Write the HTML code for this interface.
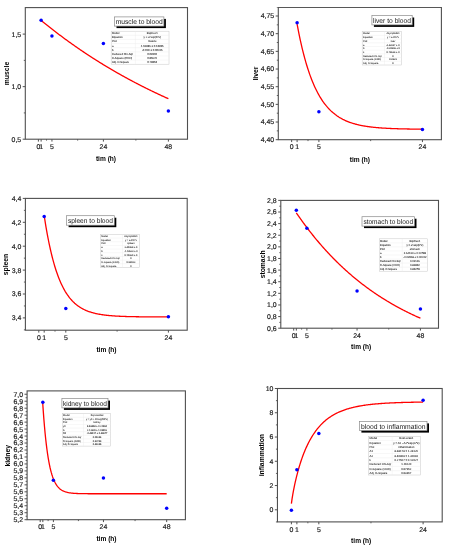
<!DOCTYPE html>
<html><head><meta charset="utf-8"><title>Figure</title>
<style>html,body{margin:0;padding:0;background:#fff;}svg{display:block;}text{font-family:"Liberation Sans", Arial, sans-serif;text-rendering:geometricPrecision;} .tl{stroke:#222;stroke-width:0.18px;} .ti{text-rendering:optimizeLegibility;}</style>
</head><body>
<svg width="453" height="550" viewBox="0 0 453 550">
<defs><filter id="soft" x="0" y="0" width="100%" height="100%"><feGaussianBlur stdDeviation="0.25"/></filter></defs>
<rect width="453" height="550" fill="#fff"/>
<g filter="url(#soft)">
<g><polyline points="41.11,20.37 41.74,20.89 42.38,21.41 43.02,21.93 43.65,22.45 44.29,22.97 44.93,23.48 45.56,23.99 46.2,24.51 46.84,25.02 47.47,25.52 48.11,26.03 48.74,26.54 49.38,27.04 50.02,27.54 50.65,28.04 51.29,28.54 51.93,29.04 52.56,29.54 53.2,30.03 53.84,30.53 54.47,31.02 55.11,31.51 55.74,32 56.38,32.48 57.02,32.97 57.65,33.45 58.29,33.94 58.93,34.42 59.56,34.9 60.2,35.38 60.84,35.85 61.47,36.33 62.11,36.8 62.74,37.28 63.38,37.75 64.02,38.22 64.65,38.68 65.29,39.15 65.93,39.62 66.56,40.08 67.2,40.54 67.84,41.01 68.47,41.46 69.11,41.92 69.75,42.38 70.38,42.84 71.02,43.29 71.65,43.74 72.29,44.19 72.93,44.64 73.56,45.09 74.2,45.54 74.84,45.99 75.47,46.43 76.11,46.87 76.75,47.32 77.38,47.76 78.02,48.2 78.65,48.63 79.29,49.07 79.93,49.51 80.56,49.94 81.2,50.37 81.84,50.8 82.47,51.23 83.11,51.66 83.75,52.09 84.38,52.52 85.02,52.94 85.65,53.36 86.29,53.79 86.93,54.21 87.56,54.63 88.2,55.04 88.84,55.46 89.47,55.88 90.11,56.29 90.75,56.7 91.38,57.12 92.02,57.53 92.65,57.94 93.29,58.35 93.93,58.75 94.56,59.16 95.2,59.56 95.84,59.97 96.47,60.37 97.11,60.77 97.75,61.17 98.38,61.57 99.02,61.96 99.65,62.36 100.29,62.75 100.93,63.15 101.56,63.54 102.2,63.93 102.84,64.32 103.47,64.71 104.11,65.1 104.75,65.48 105.38,65.87 106.02,66.25 106.66,66.63 107.29,67.02 107.93,67.4 108.56,67.78 109.2,68.15 109.84,68.53 110.47,68.91 111.11,69.28 111.75,69.66 112.38,70.03 113.02,70.4 113.66,70.77 114.29,71.14 114.93,71.51 115.56,71.87 116.2,72.24 116.84,72.6 117.47,72.97 118.11,73.33 118.75,73.69 119.38,74.05 120.02,74.41 120.66,74.77 121.29,75.12 121.93,75.48 122.56,75.83 123.2,76.19 123.84,76.54 124.47,76.89 125.11,77.24 125.75,77.59 126.38,77.94 127.02,78.29 127.66,78.63 128.29,78.98 128.93,79.32 129.56,79.67 130.2,80.01 130.84,80.35 131.47,80.69 132.11,81.03 132.75,81.36 133.38,81.7 134.02,82.04 134.66,82.37 135.29,82.71 135.93,83.04 136.56,83.37 137.2,83.7 137.84,84.03 138.47,84.36 139.11,84.69 139.75,85.01 140.38,85.34 141.02,85.66 141.66,85.99 142.29,86.31 142.93,86.63 143.57,86.95 144.2,87.27 144.84,87.59 145.47,87.91 146.11,88.22 146.75,88.54 147.38,88.85 148.02,89.17 148.66,89.48 149.29,89.79 149.93,90.1 150.57,90.41 151.2,90.72 151.84,91.03 152.47,91.34 153.11,91.65 153.75,91.95 154.38,92.25 155.02,92.56 155.66,92.86 156.29,93.16 156.93,93.46 157.57,93.76 158.2,94.06 158.84,94.36 159.47,94.66 160.11,94.95 160.75,95.25 161.38,95.54 162.02,95.84 162.66,96.13 163.29,96.42 163.93,96.71 164.57,97 165.2,97.29 165.84,97.58 166.47,97.87 167.11,98.15 167.75,98.44 168.38,98.72" fill="none" stroke="#ff0000" stroke-width="1.3" stroke-linejoin="round"/>
<circle cx="41.11" cy="20.23" r="1.75" fill="#0000ff"/>
<circle cx="51.94" cy="36.1" r="1.75" fill="#0000ff"/>
<circle cx="103.39" cy="43.45" r="1.75" fill="#0000ff"/>
<circle cx="168.38" cy="110.93" r="1.75" fill="#0000ff"/>
<rect x="25.3" y="7.6" width="162.2" height="131.6" fill="none" stroke="#505050" stroke-width="1.1"/>
<line x1="22.7" y1="139.2" x2="25.3" y2="139.2" stroke="#505050" stroke-width="1"/>
<text x="21.2" y="141.66" text-anchor="end" font-size="6.9" fill="#222" class="tl">0,5</text>
<line x1="22.7" y1="86.65" x2="25.3" y2="86.65" stroke="#505050" stroke-width="1"/>
<text x="21.2" y="89.11" text-anchor="end" font-size="6.9" fill="#222" class="tl">1,0</text>
<line x1="22.7" y1="34.1" x2="25.3" y2="34.1" stroke="#505050" stroke-width="1"/>
<text x="21.2" y="36.56" text-anchor="end" font-size="6.9" fill="#222" class="tl">1,5</text>
<line x1="23.8" y1="112.92" x2="25.3" y2="112.92" stroke="#505050" stroke-width="0.9"/>
<line x1="23.8" y1="60.38" x2="25.3" y2="60.38" stroke="#505050" stroke-width="0.9"/>
<line x1="38.4" y1="139.2" x2="38.4" y2="141.6" stroke="#505050" stroke-width="1"/>
<text x="38.4" y="148.9" text-anchor="middle" font-size="6.9" fill="#222" class="tl">0</text>
<line x1="41.11" y1="139.2" x2="41.11" y2="141.6" stroke="#505050" stroke-width="1"/>
<text x="41.11" y="148.9" text-anchor="middle" font-size="6.9" fill="#222" class="tl">1</text>
<line x1="51.94" y1="139.2" x2="51.94" y2="141.6" stroke="#505050" stroke-width="1"/>
<text x="51.94" y="148.9" text-anchor="middle" font-size="6.9" fill="#222" class="tl">5</text>
<line x1="103.39" y1="139.2" x2="103.39" y2="141.6" stroke="#505050" stroke-width="1"/>
<text x="103.39" y="148.9" text-anchor="middle" font-size="6.9" fill="#222" class="tl">24</text>
<line x1="168.38" y1="139.2" x2="168.38" y2="141.6" stroke="#505050" stroke-width="1"/>
<text x="168.38" y="148.9" text-anchor="middle" font-size="6.9" fill="#222" class="tl">48</text>
<line x1="46.52" y1="139.2" x2="46.52" y2="140.6" stroke="#505050" stroke-width="0.9"/>
<line x1="77.67" y1="139.2" x2="77.67" y2="140.6" stroke="#505050" stroke-width="0.9"/>
<line x1="135.89" y1="139.2" x2="135.89" y2="140.6" stroke="#505050" stroke-width="0.9"/>
<text transform="translate(8.7 73.5) rotate(-90)" text-anchor="middle" font-size="6.8" font-weight="bold" fill="#000" class="ti">muscle</text>
<text x="106" y="161" text-anchor="middle" font-size="6.6" font-weight="bold" fill="#000" class="ti">tim (h)</text>
<rect x="116.5" y="18.9" width="49.4" height="9.2" fill="#000"/>
<rect x="114.5" y="16.9" width="49.4" height="9.2" fill="#fff" stroke="#8a8a8a" stroke-width="0.7"/>
<text x="139.2" y="24.3" text-anchor="middle" font-size="7.0" fill="#1a1a1a" textLength="47.1" lengthAdjust="spacingAndGlyphs">muscle to blood</text>
<rect x="111.2" y="31.2" width="57.8" height="33" fill="#fff" stroke="#c8c8c8" stroke-width="0.5"/>
<line x1="111.2" y1="35.33" x2="169" y2="35.33" stroke="#ececec" stroke-width="0.4"/>
<line x1="111.2" y1="39.45" x2="169" y2="39.45" stroke="#ececec" stroke-width="0.4"/>
<line x1="111.2" y1="43.58" x2="169" y2="43.58" stroke="#ececec" stroke-width="0.4"/>
<line x1="111.2" y1="47.7" x2="169" y2="47.7" stroke="#ececec" stroke-width="0.4"/>
<line x1="111.2" y1="51.83" x2="169" y2="51.83" stroke="#ececec" stroke-width="0.4"/>
<line x1="111.2" y1="55.95" x2="169" y2="55.95" stroke="#ececec" stroke-width="0.4"/>
<line x1="111.2" y1="60.08" x2="169" y2="60.08" stroke="#ececec" stroke-width="0.4"/>
<line x1="135.4" y1="31.2" x2="135.4" y2="64.2" stroke="#ececec" stroke-width="0.4"/>
<text transform="translate(112 34.24) scale(0.2722)" class="tb" font-size="10" fill="#3a3a3a" stroke="#3a3a3a" stroke-width="0.3">Model</text>
<text transform="translate(152.2 34.24) scale(0.2722)" class="tb" font-size="10" fill="#3a3a3a" stroke="#3a3a3a" stroke-width="0.3" text-anchor="middle">ExpDec1</text>
<text transform="translate(112 38.37) scale(0.2722)" class="tb" font-size="10" fill="#3a3a3a" stroke="#3a3a3a" stroke-width="0.3">Equation</text>
<text transform="translate(152.2 38.37) scale(0.2722)" class="tb" font-size="10" fill="#3a3a3a" stroke="#3a3a3a" stroke-width="0.3" text-anchor="middle">y = a*exp(b*x)</text>
<text transform="translate(112 42.49) scale(0.2722)" class="tb" font-size="10" fill="#3a3a3a" stroke="#3a3a3a" stroke-width="0.3">Plot</text>
<text transform="translate(152.2 42.49) scale(0.2722)" class="tb" font-size="10" fill="#3a3a3a" stroke="#3a3a3a" stroke-width="0.3" text-anchor="middle">muscle</text>
<text transform="translate(112 46.62) scale(0.2722)" class="tb" font-size="10" fill="#3a3a3a" stroke="#3a3a3a" stroke-width="0.3">a</text>
<text transform="translate(152.2 46.62) scale(0.2722)" class="tb" font-size="10" fill="#3a3a3a" stroke="#3a3a3a" stroke-width="0.3" text-anchor="middle">1.65985 ± 0.13286</text>
<text transform="translate(112 50.74) scale(0.2722)" class="tb" font-size="10" fill="#3a3a3a" stroke="#3a3a3a" stroke-width="0.3">b</text>
<text transform="translate(152.2 50.74) scale(0.2722)" class="tb" font-size="10" fill="#3a3a3a" stroke="#3a3a3a" stroke-width="0.3" text-anchor="middle">-0.013 ± 0.00416</text>
<text transform="translate(112 54.87) scale(0.2722)" class="tb" font-size="10" fill="#3a3a3a" stroke="#3a3a3a" stroke-width="0.3">Reduced Chi-Sqr</text>
<text transform="translate(152.2 54.87) scale(0.2722)" class="tb" font-size="10" fill="#3a3a3a" stroke="#3a3a3a" stroke-width="0.3" text-anchor="middle">0.02902</text>
<text transform="translate(112 58.99) scale(0.2722)" class="tb" font-size="10" fill="#3a3a3a" stroke="#3a3a3a" stroke-width="0.3">R-Square (COD)</text>
<text transform="translate(152.2 58.99) scale(0.2722)" class="tb" font-size="10" fill="#3a3a3a" stroke="#3a3a3a" stroke-width="0.3" text-anchor="middle">0.86576</text>
<text transform="translate(112 63.12) scale(0.2722)" class="tb" font-size="10" fill="#3a3a3a" stroke="#3a3a3a" stroke-width="0.3">Adj. R-Square</text>
<text transform="translate(152.2 63.12) scale(0.2722)" class="tb" font-size="10" fill="#3a3a3a" stroke="#3a3a3a" stroke-width="0.3" text-anchor="middle">0.79863</text></g>
<g><polyline points="297.1,24.12 297.73,27.46 298.35,30.69 298.98,33.81 299.61,36.84 300.23,39.78 300.86,42.61 301.49,45.36 302.11,48.03 302.74,50.6 303.37,53.1 303.99,55.52 304.62,57.86 305.25,60.12 305.87,62.32 306.5,64.44 307.13,66.5 307.75,68.49 308.38,70.42 309.01,72.29 309.63,74.1 310.26,75.85 310.89,77.54 311.52,79.19 312.14,80.78 312.77,82.32 313.4,83.81 314.02,85.25 314.65,86.65 315.28,88 315.9,89.31 316.53,90.58 317.16,91.81 317.78,93 318.41,94.15 319.04,95.27 319.66,96.35 320.29,97.39 320.92,98.41 321.54,99.39 322.17,100.34 322.8,101.26 323.42,102.15 324.05,103.01 324.68,103.84 325.3,104.65 325.93,105.44 326.56,106.19 327.18,106.93 327.81,107.64 328.44,108.33 329.06,108.99 329.69,109.64 330.32,110.26 330.94,110.87 331.57,111.45 332.2,112.02 332.82,112.57 333.45,113.1 334.08,113.62 334.7,114.11 335.33,114.6 335.96,115.06 336.59,115.52 337.21,115.96 337.84,116.38 338.47,116.79 339.09,117.19 339.72,117.57 340.35,117.95 340.97,118.31 341.6,118.66 342.23,119 342.85,119.33 343.48,119.64 344.11,119.95 344.73,120.25 345.36,120.54 345.99,120.82 346.61,121.09 347.24,121.35 347.87,121.6 348.49,121.85 349.12,122.09 349.75,122.32 350.37,122.54 351,122.75 351.63,122.96 352.25,123.17 352.88,123.36 353.51,123.55 354.13,123.73 354.76,123.91 355.39,124.08 356.01,124.25 356.64,124.41 357.27,124.57 357.89,124.72 358.52,124.87 359.15,125.01 359.77,125.15 360.4,125.28 361.03,125.41 361.66,125.53 362.28,125.65 362.91,125.77 363.54,125.88 364.16,125.99 364.79,126.1 365.42,126.2 366.04,126.3 366.67,126.4 367.3,126.49 367.92,126.58 368.55,126.67 369.18,126.76 369.8,126.84 370.43,126.92 371.06,126.99 371.68,127.07 372.31,127.14 372.94,127.21 373.56,127.28 374.19,127.34 374.82,127.41 375.44,127.47 376.07,127.53 376.7,127.59 377.32,127.64 377.95,127.7 378.58,127.75 379.2,127.8 379.83,127.85 380.46,127.9 381.08,127.94 381.71,127.99 382.34,128.03 382.96,128.07 383.59,128.11 384.22,128.15 384.84,128.19 385.47,128.22 386.1,128.26 386.73,128.29 387.35,128.33 387.98,128.36 388.61,128.39 389.23,128.42 389.86,128.45 390.49,128.48 391.11,128.51 391.74,128.53 392.37,128.56 392.99,128.58 393.62,128.61 394.25,128.63 394.87,128.65 395.5,128.68 396.13,128.7 396.75,128.72 397.38,128.74 398.01,128.76 398.63,128.78 399.26,128.79 399.89,128.81 400.51,128.83 401.14,128.84 401.77,128.86 402.39,128.88 403.02,128.89 403.65,128.9 404.27,128.92 404.9,128.93 405.53,128.95 406.15,128.96 406.78,128.97 407.41,128.98 408.03,128.99 408.66,129.01 409.29,129.02 409.91,129.03 410.54,129.04 411.17,129.05 411.8,129.06 412.42,129.06 413.05,129.07 413.68,129.08 414.3,129.09 414.93,129.1 415.56,129.11 416.18,129.11 416.81,129.12 417.44,129.13 418.06,129.14 418.69,129.14 419.32,129.15 419.94,129.15 420.57,129.16 421.2,129.17 421.82,129.17 422.45,129.18" fill="none" stroke="#ff0000" stroke-width="1.3" stroke-linejoin="round"/>
<circle cx="297.1" cy="22.72" r="1.75" fill="#0000ff"/>
<circle cx="318.9" cy="111.78" r="1.75" fill="#0000ff"/>
<circle cx="422.45" cy="129.45" r="1.75" fill="#0000ff"/>
<rect x="278.3" y="7.4" width="163.1" height="132.3" fill="none" stroke="#505050" stroke-width="1.1"/>
<line x1="275.7" y1="139.7" x2="278.3" y2="139.7" stroke="#505050" stroke-width="1"/>
<text x="274.2" y="142.16" text-anchor="end" font-size="6.9" fill="#222" class="tl">4,40</text>
<line x1="275.7" y1="122.03" x2="278.3" y2="122.03" stroke="#505050" stroke-width="1"/>
<text x="274.2" y="124.49" text-anchor="end" font-size="6.9" fill="#222" class="tl">4,45</text>
<line x1="275.7" y1="104.36" x2="278.3" y2="104.36" stroke="#505050" stroke-width="1"/>
<text x="274.2" y="106.82" text-anchor="end" font-size="6.9" fill="#222" class="tl">4,50</text>
<line x1="275.7" y1="86.69" x2="278.3" y2="86.69" stroke="#505050" stroke-width="1"/>
<text x="274.2" y="89.15" text-anchor="end" font-size="6.9" fill="#222" class="tl">4,55</text>
<line x1="275.7" y1="69.02" x2="278.3" y2="69.02" stroke="#505050" stroke-width="1"/>
<text x="274.2" y="71.48" text-anchor="end" font-size="6.9" fill="#222" class="tl">4,60</text>
<line x1="275.7" y1="51.35" x2="278.3" y2="51.35" stroke="#505050" stroke-width="1"/>
<text x="274.2" y="53.81" text-anchor="end" font-size="6.9" fill="#222" class="tl">4,65</text>
<line x1="275.7" y1="33.68" x2="278.3" y2="33.68" stroke="#505050" stroke-width="1"/>
<text x="274.2" y="36.14" text-anchor="end" font-size="6.9" fill="#222" class="tl">4,70</text>
<line x1="275.7" y1="16.01" x2="278.3" y2="16.01" stroke="#505050" stroke-width="1"/>
<text x="274.2" y="18.47" text-anchor="end" font-size="6.9" fill="#222" class="tl">4,75</text>
<line x1="276.8" y1="130.87" x2="278.3" y2="130.87" stroke="#505050" stroke-width="0.9"/>
<line x1="276.8" y1="113.2" x2="278.3" y2="113.2" stroke="#505050" stroke-width="0.9"/>
<line x1="276.8" y1="95.52" x2="278.3" y2="95.52" stroke="#505050" stroke-width="0.9"/>
<line x1="276.8" y1="77.86" x2="278.3" y2="77.86" stroke="#505050" stroke-width="0.9"/>
<line x1="276.8" y1="60.19" x2="278.3" y2="60.19" stroke="#505050" stroke-width="0.9"/>
<line x1="276.8" y1="42.52" x2="278.3" y2="42.52" stroke="#505050" stroke-width="0.9"/>
<line x1="276.8" y1="24.85" x2="278.3" y2="24.85" stroke="#505050" stroke-width="0.9"/>
<line x1="276.8" y1="7.18" x2="278.3" y2="7.18" stroke="#505050" stroke-width="0.9"/>
<line x1="291.65" y1="139.7" x2="291.65" y2="142.1" stroke="#505050" stroke-width="1"/>
<text x="291.65" y="149.4" text-anchor="middle" font-size="6.9" fill="#222" class="tl">0</text>
<line x1="297.1" y1="139.7" x2="297.1" y2="142.1" stroke="#505050" stroke-width="1"/>
<text x="297.1" y="149.4" text-anchor="middle" font-size="6.9" fill="#222" class="tl">1</text>
<line x1="318.9" y1="139.7" x2="318.9" y2="142.1" stroke="#505050" stroke-width="1"/>
<text x="318.9" y="149.4" text-anchor="middle" font-size="6.9" fill="#222" class="tl">5</text>
<line x1="422.45" y1="139.7" x2="422.45" y2="142.1" stroke="#505050" stroke-width="1"/>
<text x="422.45" y="149.4" text-anchor="middle" font-size="6.9" fill="#222" class="tl">24</text>
<line x1="308" y1="139.7" x2="308" y2="141.1" stroke="#505050" stroke-width="0.9"/>
<line x1="370.67" y1="139.7" x2="370.67" y2="141.1" stroke="#505050" stroke-width="0.9"/>
<text transform="translate(257.9 73.6) rotate(-90)" text-anchor="middle" font-size="6.8" font-weight="bold" fill="#000" class="ti">liver</text>
<text x="359.9" y="161.7" text-anchor="middle" font-size="6.6" font-weight="bold" fill="#000" class="ti">tim (h)</text>
<rect x="373.9" y="17.5" width="40.3" height="9.4" fill="#000"/>
<rect x="371.9" y="15.5" width="40.3" height="9.4" fill="#fff" stroke="#8a8a8a" stroke-width="0.7"/>
<text x="392.05" y="23.1" text-anchor="middle" font-size="7.0" fill="#1a1a1a" textLength="38" lengthAdjust="spacingAndGlyphs">liver to blood</text>
<rect x="362.2" y="31.7" width="39.4" height="33.3" fill="#fff" stroke="#c8c8c8" stroke-width="0.5"/>
<line x1="362.2" y1="35.4" x2="401.6" y2="35.4" stroke="#ececec" stroke-width="0.4"/>
<line x1="362.2" y1="39.1" x2="401.6" y2="39.1" stroke="#ececec" stroke-width="0.4"/>
<line x1="362.2" y1="42.8" x2="401.6" y2="42.8" stroke="#ececec" stroke-width="0.4"/>
<line x1="362.2" y1="46.5" x2="401.6" y2="46.5" stroke="#ececec" stroke-width="0.4"/>
<line x1="362.2" y1="50.2" x2="401.6" y2="50.2" stroke="#ececec" stroke-width="0.4"/>
<line x1="362.2" y1="53.9" x2="401.6" y2="53.9" stroke="#ececec" stroke-width="0.4"/>
<line x1="362.2" y1="57.6" x2="401.6" y2="57.6" stroke="#ececec" stroke-width="0.4"/>
<line x1="362.2" y1="61.3" x2="401.6" y2="61.3" stroke="#ececec" stroke-width="0.4"/>
<line x1="384.5" y1="31.7" x2="384.5" y2="65" stroke="#ececec" stroke-width="0.4"/>
<text transform="translate(363 34.43) scale(0.2442)" class="tb" font-size="10" fill="#3a3a3a" stroke="#3a3a3a" stroke-width="0.3">Model</text>
<text transform="translate(393.05 34.43) scale(0.2442)" class="tb" font-size="10" fill="#3a3a3a" stroke="#3a3a3a" stroke-width="0.3" text-anchor="middle">Asymptotic1</text>
<text transform="translate(363 38.13) scale(0.2442)" class="tb" font-size="10" fill="#3a3a3a" stroke="#3a3a3a" stroke-width="0.3">Equation</text>
<text transform="translate(393.05 38.13) scale(0.2442)" class="tb" font-size="10" fill="#3a3a3a" stroke="#3a3a3a" stroke-width="0.3" text-anchor="middle">y = a-b*c^x</text>
<text transform="translate(363 41.83) scale(0.2442)" class="tb" font-size="10" fill="#3a3a3a" stroke="#3a3a3a" stroke-width="0.3">Plot</text>
<text transform="translate(393.05 41.83) scale(0.2442)" class="tb" font-size="10" fill="#3a3a3a" stroke="#3a3a3a" stroke-width="0.3" text-anchor="middle">liver</text>
<text transform="translate(363 45.53) scale(0.2442)" class="tb" font-size="10" fill="#3a3a3a" stroke="#3a3a3a" stroke-width="0.3">a</text>
<text transform="translate(393.05 45.53) scale(0.2442)" class="tb" font-size="10" fill="#3a3a3a" stroke="#3a3a3a" stroke-width="0.3" text-anchor="middle">4.42987 ± 0</text>
<text transform="translate(363 49.23) scale(0.2442)" class="tb" font-size="10" fill="#3a3a3a" stroke="#3a3a3a" stroke-width="0.3">b</text>
<text transform="translate(393.05 49.23) scale(0.2442)" class="tb" font-size="10" fill="#3a3a3a" stroke="#3a3a3a" stroke-width="0.3" text-anchor="middle">-0.30656 ± 0</text>
<text transform="translate(363 52.93) scale(0.2442)" class="tb" font-size="10" fill="#3a3a3a" stroke="#3a3a3a" stroke-width="0.3">c</text>
<text transform="translate(393.05 52.93) scale(0.2442)" class="tb" font-size="10" fill="#3a3a3a" stroke="#3a3a3a" stroke-width="0.3" text-anchor="middle">0.75624 ± 0</text>
<text transform="translate(363 56.63) scale(0.2442)" class="tb" font-size="10" fill="#3a3a3a" stroke="#3a3a3a" stroke-width="0.3">Reduced Chi-Sqr</text>
<text transform="translate(393.05 56.63) scale(0.2442)" class="tb" font-size="10" fill="#3a3a3a" stroke="#3a3a3a" stroke-width="0.3" text-anchor="middle">0</text>
<text transform="translate(363 60.33) scale(0.2442)" class="tb" font-size="10" fill="#3a3a3a" stroke="#3a3a3a" stroke-width="0.3">R-Square (COD)</text>
<text transform="translate(393.05 60.33) scale(0.2442)" class="tb" font-size="10" fill="#3a3a3a" stroke="#3a3a3a" stroke-width="0.3" text-anchor="middle">0.8529</text>
<text transform="translate(363 64.03) scale(0.2442)" class="tb" font-size="10" fill="#3a3a3a" stroke="#3a3a3a" stroke-width="0.3">Adj. R-Square</text>
<text transform="translate(393.05 64.03) scale(0.2442)" class="tb" font-size="10" fill="#3a3a3a" stroke="#3a3a3a" stroke-width="0.3" text-anchor="middle">0</text></g>
<g><polyline points="44.2,215.65 44.82,219.68 45.44,223.56 46.06,227.28 46.68,230.86 47.3,234.29 47.93,237.58 48.55,240.75 49.17,243.78 49.79,246.7 50.41,249.5 51.03,252.19 51.65,254.77 52.27,257.25 52.89,259.63 53.52,261.91 54.14,264.11 54.76,266.21 55.38,268.24 56,270.18 56.62,272.04 57.24,273.83 57.86,275.55 58.48,277.2 59.1,278.79 59.72,280.31 60.35,281.77 60.97,283.17 61.59,284.52 62.21,285.81 62.83,287.05 63.45,288.25 64.07,289.39 64.69,290.49 65.31,291.55 65.94,292.56 66.56,293.53 67.18,294.47 67.8,295.36 68.42,296.22 69.04,297.05 69.66,297.85 70.28,298.61 70.9,299.34 71.52,300.04 72.14,300.72 72.77,301.37 73.39,301.99 74.01,302.58 74.63,303.16 75.25,303.71 75.87,304.24 76.49,304.75 77.11,305.23 77.73,305.7 78.36,306.15 78.98,306.58 79.6,307 80.22,307.39 80.84,307.78 81.46,308.14 82.08,308.49 82.7,308.83 83.32,309.16 83.94,309.47 84.56,309.77 85.19,310.06 85.81,310.33 86.43,310.6 87.05,310.85 87.67,311.09 88.29,311.33 88.91,311.55 89.53,311.77 90.15,311.98 90.78,312.18 91.4,312.37 92.02,312.55 92.64,312.73 93.26,312.9 93.88,313.06 94.5,313.22 95.12,313.37 95.74,313.51 96.36,313.65 96.98,313.78 97.61,313.91 98.23,314.03 98.85,314.15 99.47,314.26 100.09,314.37 100.71,314.47 101.33,314.57 101.95,314.67 102.57,314.76 103.2,314.85 103.82,314.93 104.44,315.02 105.06,315.09 105.68,315.17 106.3,315.24 106.92,315.31 107.54,315.38 108.16,315.44 108.78,315.5 109.41,315.56 110.03,315.62 110.65,315.67 111.27,315.72 111.89,315.77 112.51,315.82 113.13,315.87 113.75,315.91 114.37,315.96 114.99,316 115.61,316.04 116.24,316.07 116.86,316.11 117.48,316.14 118.1,316.18 118.72,316.21 119.34,316.24 119.96,316.27 120.58,316.3 121.2,316.32 121.83,316.35 122.45,316.38 123.07,316.4 123.69,316.42 124.31,316.45 124.93,316.47 125.55,316.49 126.17,316.51 126.79,316.53 127.41,316.54 128.03,316.56 128.66,316.58 129.28,316.59 129.9,316.61 130.52,316.62 131.14,316.64 131.76,316.65 132.38,316.66 133,316.68 133.62,316.69 134.25,316.7 134.87,316.71 135.49,316.72 136.11,316.73 136.73,316.74 137.35,316.75 137.97,316.76 138.59,316.77 139.21,316.78 139.83,316.79 140.45,316.79 141.08,316.8 141.7,316.81 142.32,316.82 142.94,316.82 143.56,316.83 144.18,316.83 144.8,316.84 145.42,316.85 146.04,316.85 146.67,316.86 147.29,316.86 147.91,316.87 148.53,316.87 149.15,316.87 149.77,316.88 150.39,316.88 151.01,316.89 151.63,316.89 152.25,316.89 152.88,316.9 153.5,316.9 154.12,316.9 154.74,316.91 155.36,316.91 155.98,316.91 156.6,316.92 157.22,316.92 157.84,316.92 158.46,316.92 159.08,316.92 159.71,316.93 160.33,316.93 160.95,316.93 161.57,316.93 162.19,316.94 162.81,316.94 163.43,316.94 164.05,316.94 164.67,316.94 165.3,316.94 165.92,316.94 166.54,316.95 167.16,316.95 167.78,316.95 168.4,316.95" fill="none" stroke="#ff0000" stroke-width="1.3" stroke-linejoin="round"/>
<circle cx="44.2" cy="216.44" r="1.75" fill="#0000ff"/>
<circle cx="65.8" cy="308.58" r="1.75" fill="#0000ff"/>
<circle cx="168.4" cy="316.71" r="1.75" fill="#0000ff"/>
<rect x="25.4" y="198.4" width="161.8" height="131.8" fill="none" stroke="#505050" stroke-width="1.1"/>
<line x1="22.8" y1="317.9" x2="25.4" y2="317.9" stroke="#505050" stroke-width="1"/>
<text x="21.3" y="320.36" text-anchor="end" font-size="6.9" fill="#222" class="tl">3,4</text>
<line x1="22.8" y1="294" x2="25.4" y2="294" stroke="#505050" stroke-width="1"/>
<text x="21.3" y="296.46" text-anchor="end" font-size="6.9" fill="#222" class="tl">3,6</text>
<line x1="22.8" y1="270.1" x2="25.4" y2="270.1" stroke="#505050" stroke-width="1"/>
<text x="21.3" y="272.56" text-anchor="end" font-size="6.9" fill="#222" class="tl">3,8</text>
<line x1="22.8" y1="246.2" x2="25.4" y2="246.2" stroke="#505050" stroke-width="1"/>
<text x="21.3" y="248.66" text-anchor="end" font-size="6.9" fill="#222" class="tl">4,0</text>
<line x1="22.8" y1="222.3" x2="25.4" y2="222.3" stroke="#505050" stroke-width="1"/>
<text x="21.3" y="224.76" text-anchor="end" font-size="6.9" fill="#222" class="tl">4,2</text>
<line x1="22.8" y1="198.4" x2="25.4" y2="198.4" stroke="#505050" stroke-width="1"/>
<text x="21.3" y="200.86" text-anchor="end" font-size="6.9" fill="#222" class="tl">4,4</text>
<line x1="23.9" y1="329.85" x2="25.4" y2="329.85" stroke="#505050" stroke-width="0.9"/>
<line x1="23.9" y1="305.95" x2="25.4" y2="305.95" stroke="#505050" stroke-width="0.9"/>
<line x1="23.9" y1="282.05" x2="25.4" y2="282.05" stroke="#505050" stroke-width="0.9"/>
<line x1="23.9" y1="258.15" x2="25.4" y2="258.15" stroke="#505050" stroke-width="0.9"/>
<line x1="23.9" y1="234.25" x2="25.4" y2="234.25" stroke="#505050" stroke-width="0.9"/>
<line x1="23.9" y1="210.35" x2="25.4" y2="210.35" stroke="#505050" stroke-width="0.9"/>
<line x1="38.8" y1="330.2" x2="38.8" y2="332.6" stroke="#505050" stroke-width="1"/>
<text x="38.8" y="339.9" text-anchor="middle" font-size="6.9" fill="#222" class="tl">0</text>
<line x1="44.2" y1="330.2" x2="44.2" y2="332.6" stroke="#505050" stroke-width="1"/>
<text x="44.2" y="339.9" text-anchor="middle" font-size="6.9" fill="#222" class="tl">1</text>
<line x1="65.8" y1="330.2" x2="65.8" y2="332.6" stroke="#505050" stroke-width="1"/>
<text x="65.8" y="339.9" text-anchor="middle" font-size="6.9" fill="#222" class="tl">5</text>
<line x1="168.4" y1="330.2" x2="168.4" y2="332.6" stroke="#505050" stroke-width="1"/>
<text x="168.4" y="339.9" text-anchor="middle" font-size="6.9" fill="#222" class="tl">24</text>
<line x1="55" y1="330.2" x2="55" y2="331.6" stroke="#505050" stroke-width="0.9"/>
<line x1="117.1" y1="330.2" x2="117.1" y2="331.6" stroke="#505050" stroke-width="0.9"/>
<text transform="translate(8.3 264.5) rotate(-90)" text-anchor="middle" font-size="6.8" font-weight="bold" fill="#000" class="ti">spleen</text>
<text x="106.5" y="352.1" text-anchor="middle" font-size="6.6" font-weight="bold" fill="#000" class="ti">tim (h)</text>
<rect x="68.6" y="217.7" width="47.7" height="9.5" fill="#000"/>
<rect x="66.6" y="215.7" width="47.7" height="9.5" fill="#fff" stroke="#8a8a8a" stroke-width="0.7"/>
<text x="90.45" y="223.4" text-anchor="middle" font-size="7.0" fill="#1a1a1a" textLength="45" lengthAdjust="spacingAndGlyphs">spleen to blood</text>
<rect x="100.4" y="234.4" width="38.9" height="33.1" fill="#fff" stroke="#c8c8c8" stroke-width="0.5"/>
<line x1="100.4" y1="238.08" x2="139.3" y2="238.08" stroke="#ececec" stroke-width="0.4"/>
<line x1="100.4" y1="241.76" x2="139.3" y2="241.76" stroke="#ececec" stroke-width="0.4"/>
<line x1="100.4" y1="245.43" x2="139.3" y2="245.43" stroke="#ececec" stroke-width="0.4"/>
<line x1="100.4" y1="249.11" x2="139.3" y2="249.11" stroke="#ececec" stroke-width="0.4"/>
<line x1="100.4" y1="252.79" x2="139.3" y2="252.79" stroke="#ececec" stroke-width="0.4"/>
<line x1="100.4" y1="256.47" x2="139.3" y2="256.47" stroke="#ececec" stroke-width="0.4"/>
<line x1="100.4" y1="260.14" x2="139.3" y2="260.14" stroke="#ececec" stroke-width="0.4"/>
<line x1="100.4" y1="263.82" x2="139.3" y2="263.82" stroke="#ececec" stroke-width="0.4"/>
<line x1="122.5" y1="234.4" x2="122.5" y2="267.5" stroke="#ececec" stroke-width="0.4"/>
<text transform="translate(101.2 237.11) scale(0.2427)" class="tb" font-size="10" fill="#3a3a3a" stroke="#3a3a3a" stroke-width="0.3">Model</text>
<text transform="translate(130.9 237.11) scale(0.2427)" class="tb" font-size="10" fill="#3a3a3a" stroke="#3a3a3a" stroke-width="0.3" text-anchor="middle">Asymptotic1</text>
<text transform="translate(101.2 240.79) scale(0.2427)" class="tb" font-size="10" fill="#3a3a3a" stroke="#3a3a3a" stroke-width="0.3">Equation</text>
<text transform="translate(130.9 240.79) scale(0.2427)" class="tb" font-size="10" fill="#3a3a3a" stroke="#3a3a3a" stroke-width="0.3" text-anchor="middle">y = a-b*c^x</text>
<text transform="translate(101.2 244.47) scale(0.2427)" class="tb" font-size="10" fill="#3a3a3a" stroke="#3a3a3a" stroke-width="0.3">Plot</text>
<text transform="translate(130.9 244.47) scale(0.2427)" class="tb" font-size="10" fill="#3a3a3a" stroke="#3a3a3a" stroke-width="0.3" text-anchor="middle">spleen</text>
<text transform="translate(101.2 248.15) scale(0.2427)" class="tb" font-size="10" fill="#3a3a3a" stroke="#3a3a3a" stroke-width="0.3">a</text>
<text transform="translate(130.9 248.15) scale(0.2427)" class="tb" font-size="10" fill="#3a3a3a" stroke="#3a3a3a" stroke-width="0.3" text-anchor="middle">3.40969 ± 0</text>
<text transform="translate(101.2 251.82) scale(0.2427)" class="tb" font-size="10" fill="#3a3a3a" stroke="#3a3a3a" stroke-width="0.3">b</text>
<text transform="translate(130.9 251.82) scale(0.2427)" class="tb" font-size="10" fill="#3a3a3a" stroke="#3a3a3a" stroke-width="0.3" text-anchor="middle">-1.18532 ± 0</text>
<text transform="translate(101.2 255.5) scale(0.2427)" class="tb" font-size="10" fill="#3a3a3a" stroke="#3a3a3a" stroke-width="0.3">c</text>
<text transform="translate(130.9 255.5) scale(0.2427)" class="tb" font-size="10" fill="#3a3a3a" stroke="#3a3a3a" stroke-width="0.3" text-anchor="middle">0.70660 ± 0</text>
<text transform="translate(101.2 259.18) scale(0.2427)" class="tb" font-size="10" fill="#3a3a3a" stroke="#3a3a3a" stroke-width="0.3">Reduced Chi-Sqr</text>
<text transform="translate(130.9 259.18) scale(0.2427)" class="tb" font-size="10" fill="#3a3a3a" stroke="#3a3a3a" stroke-width="0.3" text-anchor="middle">0</text>
<text transform="translate(101.2 262.86) scale(0.2427)" class="tb" font-size="10" fill="#3a3a3a" stroke="#3a3a3a" stroke-width="0.3">R-Square (COD)</text>
<text transform="translate(130.9 262.86) scale(0.2427)" class="tb" font-size="10" fill="#3a3a3a" stroke="#3a3a3a" stroke-width="0.3" text-anchor="middle">0.95183</text>
<text transform="translate(101.2 266.53) scale(0.2427)" class="tb" font-size="10" fill="#3a3a3a" stroke="#3a3a3a" stroke-width="0.3">Adj. R-Square</text>
<text transform="translate(130.9 266.53) scale(0.2427)" class="tb" font-size="10" fill="#3a3a3a" stroke="#3a3a3a" stroke-width="0.3" text-anchor="middle">0</text></g>
<g><polyline points="296.34,212.89 296.96,213.8 297.58,214.7 298.2,215.59 298.82,216.48 299.44,217.36 300.06,218.24 300.68,219.11 301.3,219.98 301.92,220.84 302.54,221.7 303.16,222.55 303.78,223.4 304.41,224.24 305.03,225.08 305.65,225.91 306.27,226.73 306.89,227.56 307.51,228.37 308.13,229.18 308.75,229.99 309.37,230.79 309.99,231.59 310.61,232.38 311.23,233.17 311.85,233.95 312.47,234.73 313.09,235.5 313.71,236.27 314.33,237.04 314.95,237.79 315.57,238.55 316.19,239.3 316.81,240.05 317.43,240.79 318.05,241.52 318.67,242.26 319.29,242.98 319.92,243.71 320.54,244.43 321.16,245.14 321.78,245.85 322.4,246.56 323.02,247.26 323.64,247.96 324.26,248.65 324.88,249.34 325.5,250.03 326.12,250.71 326.74,251.38 327.36,252.06 327.98,252.73 328.6,253.39 329.22,254.05 329.84,254.71 330.46,255.36 331.08,256.01 331.7,256.66 332.32,257.3 332.94,257.93 333.56,258.57 334.18,259.2 334.8,259.82 335.43,260.45 336.05,261.06 336.67,261.68 337.29,262.29 337.91,262.9 338.53,263.5 339.15,264.1 339.77,264.7 340.39,265.29 341.01,265.88 341.63,266.46 342.25,267.05 342.87,267.63 343.49,268.2 344.11,268.77 344.73,269.34 345.35,269.9 345.97,270.47 346.59,271.02 347.21,271.58 347.83,272.13 348.45,272.68 349.07,273.22 349.69,273.76 350.31,274.3 350.94,274.84 351.56,275.37 352.18,275.9 352.8,276.42 353.42,276.94 354.04,277.46 354.66,277.98 355.28,278.49 355.9,279 356.52,279.51 357.14,280.01 357.76,280.51 358.38,281.01 359,281.5 359.62,281.99 360.24,282.48 360.86,282.97 361.48,283.45 362.1,283.93 362.72,284.41 363.34,284.88 363.96,285.35 364.58,285.82 365.2,286.29 365.82,286.75 366.45,287.21 367.07,287.67 367.69,288.12 368.31,288.57 368.93,289.02 369.55,289.47 370.17,289.91 370.79,290.35 371.41,290.79 372.03,291.23 372.65,291.66 373.27,292.09 373.89,292.52 374.51,292.94 375.13,293.36 375.75,293.78 376.37,294.2 376.99,294.62 377.61,295.03 378.23,295.44 378.85,295.85 379.47,296.25 380.09,296.65 380.71,297.05 381.33,297.45 381.96,297.85 382.58,298.24 383.2,298.63 383.82,299.02 384.44,299.4 385.06,299.79 385.68,300.17 386.3,300.55 386.92,300.93 387.54,301.3 388.16,301.67 388.78,302.04 389.4,302.41 390.02,302.77 390.64,303.14 391.26,303.5 391.88,303.86 392.5,304.21 393.12,304.57 393.74,304.92 394.36,305.27 394.98,305.62 395.6,305.97 396.22,306.31 396.84,306.65 397.47,306.99 398.09,307.33 398.71,307.67 399.33,308 399.95,308.33 400.57,308.66 401.19,308.99 401.81,309.32 402.43,309.64 403.05,309.96 403.67,310.28 404.29,310.6 404.91,310.92 405.53,311.23 406.15,311.54 406.77,311.85 407.39,312.16 408.01,312.47 408.63,312.77 409.25,313.08 409.87,313.38 410.49,313.68 411.11,313.97 411.73,314.27 412.35,314.56 412.98,314.86 413.6,315.15 414.22,315.43 414.84,315.72 415.46,316.01 416.08,316.29 416.7,316.57 417.32,316.85 417.94,317.13 418.56,317.41 419.18,317.68 419.8,317.96 420.42,318.23" fill="none" stroke="#ff0000" stroke-width="1.3" stroke-linejoin="round"/>
<circle cx="296.34" cy="210.32" r="1.75" fill="#0000ff"/>
<circle cx="306.9" cy="228.33" r="1.75" fill="#0000ff"/>
<circle cx="357.06" cy="291.02" r="1.75" fill="#0000ff"/>
<circle cx="420.42" cy="309.09" r="1.75" fill="#0000ff"/>
<rect x="280.8" y="200.4" width="157.7" height="127.8" fill="none" stroke="#505050" stroke-width="1.1"/>
<line x1="278.2" y1="328.2" x2="280.8" y2="328.2" stroke="#505050" stroke-width="1"/>
<text x="276.7" y="330.66" text-anchor="end" font-size="6.9" fill="#222" class="tl">0,6</text>
<line x1="278.2" y1="316.58" x2="280.8" y2="316.58" stroke="#505050" stroke-width="1"/>
<text x="276.7" y="319.04" text-anchor="end" font-size="6.9" fill="#222" class="tl">0,8</text>
<line x1="278.2" y1="304.96" x2="280.8" y2="304.96" stroke="#505050" stroke-width="1"/>
<text x="276.7" y="307.42" text-anchor="end" font-size="6.9" fill="#222" class="tl">1,0</text>
<line x1="278.2" y1="293.34" x2="280.8" y2="293.34" stroke="#505050" stroke-width="1"/>
<text x="276.7" y="295.8" text-anchor="end" font-size="6.9" fill="#222" class="tl">1,2</text>
<line x1="278.2" y1="281.72" x2="280.8" y2="281.72" stroke="#505050" stroke-width="1"/>
<text x="276.7" y="284.18" text-anchor="end" font-size="6.9" fill="#222" class="tl">1,4</text>
<line x1="278.2" y1="270.1" x2="280.8" y2="270.1" stroke="#505050" stroke-width="1"/>
<text x="276.7" y="272.56" text-anchor="end" font-size="6.9" fill="#222" class="tl">1,6</text>
<line x1="278.2" y1="258.48" x2="280.8" y2="258.48" stroke="#505050" stroke-width="1"/>
<text x="276.7" y="260.94" text-anchor="end" font-size="6.9" fill="#222" class="tl">1,8</text>
<line x1="278.2" y1="246.86" x2="280.8" y2="246.86" stroke="#505050" stroke-width="1"/>
<text x="276.7" y="249.32" text-anchor="end" font-size="6.9" fill="#222" class="tl">2,0</text>
<line x1="278.2" y1="235.24" x2="280.8" y2="235.24" stroke="#505050" stroke-width="1"/>
<text x="276.7" y="237.7" text-anchor="end" font-size="6.9" fill="#222" class="tl">2,2</text>
<line x1="278.2" y1="223.62" x2="280.8" y2="223.62" stroke="#505050" stroke-width="1"/>
<text x="276.7" y="226.08" text-anchor="end" font-size="6.9" fill="#222" class="tl">2,4</text>
<line x1="278.2" y1="212" x2="280.8" y2="212" stroke="#505050" stroke-width="1"/>
<text x="276.7" y="214.46" text-anchor="end" font-size="6.9" fill="#222" class="tl">2,6</text>
<line x1="278.2" y1="200.38" x2="280.8" y2="200.38" stroke="#505050" stroke-width="1"/>
<text x="276.7" y="202.84" text-anchor="end" font-size="6.9" fill="#222" class="tl">2,8</text>
<line x1="279.3" y1="322.39" x2="280.8" y2="322.39" stroke="#505050" stroke-width="0.9"/>
<line x1="279.3" y1="310.77" x2="280.8" y2="310.77" stroke="#505050" stroke-width="0.9"/>
<line x1="279.3" y1="299.15" x2="280.8" y2="299.15" stroke="#505050" stroke-width="0.9"/>
<line x1="279.3" y1="287.53" x2="280.8" y2="287.53" stroke="#505050" stroke-width="0.9"/>
<line x1="279.3" y1="275.91" x2="280.8" y2="275.91" stroke="#505050" stroke-width="0.9"/>
<line x1="279.3" y1="264.29" x2="280.8" y2="264.29" stroke="#505050" stroke-width="0.9"/>
<line x1="279.3" y1="252.67" x2="280.8" y2="252.67" stroke="#505050" stroke-width="0.9"/>
<line x1="279.3" y1="241.05" x2="280.8" y2="241.05" stroke="#505050" stroke-width="0.9"/>
<line x1="279.3" y1="229.43" x2="280.8" y2="229.43" stroke="#505050" stroke-width="0.9"/>
<line x1="279.3" y1="217.81" x2="280.8" y2="217.81" stroke="#505050" stroke-width="0.9"/>
<line x1="279.3" y1="206.19" x2="280.8" y2="206.19" stroke="#505050" stroke-width="0.9"/>
<line x1="293.7" y1="328.2" x2="293.7" y2="330.6" stroke="#505050" stroke-width="1"/>
<text x="293.7" y="337.9" text-anchor="middle" font-size="6.9" fill="#222" class="tl">0</text>
<line x1="296.34" y1="328.2" x2="296.34" y2="330.6" stroke="#505050" stroke-width="1"/>
<text x="296.34" y="337.9" text-anchor="middle" font-size="6.9" fill="#222" class="tl">1</text>
<line x1="306.9" y1="328.2" x2="306.9" y2="330.6" stroke="#505050" stroke-width="1"/>
<text x="306.9" y="337.9" text-anchor="middle" font-size="6.9" fill="#222" class="tl">5</text>
<line x1="357.06" y1="328.2" x2="357.06" y2="330.6" stroke="#505050" stroke-width="1"/>
<text x="357.06" y="337.9" text-anchor="middle" font-size="6.9" fill="#222" class="tl">24</text>
<line x1="420.42" y1="328.2" x2="420.42" y2="330.6" stroke="#505050" stroke-width="1"/>
<text x="420.42" y="337.9" text-anchor="middle" font-size="6.9" fill="#222" class="tl">48</text>
<line x1="301.62" y1="328.2" x2="301.62" y2="329.6" stroke="#505050" stroke-width="0.9"/>
<line x1="331.98" y1="328.2" x2="331.98" y2="329.6" stroke="#505050" stroke-width="0.9"/>
<line x1="388.74" y1="328.2" x2="388.74" y2="329.6" stroke="#505050" stroke-width="0.9"/>
<text transform="translate(264.7 264.4) rotate(-90)" text-anchor="middle" font-size="6.8" font-weight="bold" fill="#000" class="ti">stomach</text>
<text x="361.2" y="349.2" text-anchor="middle" font-size="6.6" font-weight="bold" fill="#000" class="ti">tim (h)</text>
<rect x="364" y="218.7" width="52.5" height="9.4" fill="#000"/>
<rect x="362" y="216.7" width="52.5" height="9.4" fill="#fff" stroke="#8a8a8a" stroke-width="0.7"/>
<text x="388.25" y="224.3" text-anchor="middle" font-size="7.0" fill="#1a1a1a" textLength="49.7" lengthAdjust="spacingAndGlyphs">stomach to blood</text>
<rect x="379.3" y="238.8" width="48.2" height="32.4" fill="#fff" stroke="#c8c8c8" stroke-width="0.5"/>
<line x1="379.3" y1="242.85" x2="427.5" y2="242.85" stroke="#ececec" stroke-width="0.4"/>
<line x1="379.3" y1="246.9" x2="427.5" y2="246.9" stroke="#ececec" stroke-width="0.4"/>
<line x1="379.3" y1="250.95" x2="427.5" y2="250.95" stroke="#ececec" stroke-width="0.4"/>
<line x1="379.3" y1="255" x2="427.5" y2="255" stroke="#ececec" stroke-width="0.4"/>
<line x1="379.3" y1="259.05" x2="427.5" y2="259.05" stroke="#ececec" stroke-width="0.4"/>
<line x1="379.3" y1="263.1" x2="427.5" y2="263.1" stroke="#ececec" stroke-width="0.4"/>
<line x1="379.3" y1="267.15" x2="427.5" y2="267.15" stroke="#ececec" stroke-width="0.4"/>
<line x1="402.3" y1="238.8" x2="402.3" y2="271.2" stroke="#ececec" stroke-width="0.4"/>
<text transform="translate(380.1 241.79) scale(0.2673)" class="tb" font-size="10" fill="#3a3a3a" stroke="#3a3a3a" stroke-width="0.3">Model</text>
<text transform="translate(414.9 241.79) scale(0.2673)" class="tb" font-size="10" fill="#3a3a3a" stroke="#3a3a3a" stroke-width="0.3" text-anchor="middle">ExpDec1</text>
<text transform="translate(380.1 245.84) scale(0.2673)" class="tb" font-size="10" fill="#3a3a3a" stroke="#3a3a3a" stroke-width="0.3">Equation</text>
<text transform="translate(414.9 245.84) scale(0.2673)" class="tb" font-size="10" fill="#3a3a3a" stroke="#3a3a3a" stroke-width="0.3" text-anchor="middle">y = a*exp(b*x)</text>
<text transform="translate(380.1 249.89) scale(0.2673)" class="tb" font-size="10" fill="#3a3a3a" stroke="#3a3a3a" stroke-width="0.3">Plot</text>
<text transform="translate(414.9 249.89) scale(0.2673)" class="tb" font-size="10" fill="#3a3a3a" stroke="#3a3a3a" stroke-width="0.3" text-anchor="middle">stomach</text>
<text transform="translate(380.1 253.94) scale(0.2673)" class="tb" font-size="10" fill="#3a3a3a" stroke="#3a3a3a" stroke-width="0.3">a</text>
<text transform="translate(414.9 253.94) scale(0.2673)" class="tb" font-size="10" fill="#3a3a3a" stroke="#3a3a3a" stroke-width="0.3" text-anchor="middle">2.64133 ± 0.14788</text>
<text transform="translate(380.1 257.99) scale(0.2673)" class="tb" font-size="10" fill="#3a3a3a" stroke="#3a3a3a" stroke-width="0.3">b</text>
<text transform="translate(414.9 257.99) scale(0.2673)" class="tb" font-size="10" fill="#3a3a3a" stroke="#3a3a3a" stroke-width="0.3" text-anchor="middle">-0.02569 ± 0.00412</text>
<text transform="translate(380.1 262.04) scale(0.2673)" class="tb" font-size="10" fill="#3a3a3a" stroke="#3a3a3a" stroke-width="0.3">Reduced Chi-Sqr</text>
<text transform="translate(414.9 262.04) scale(0.2673)" class="tb" font-size="10" fill="#3a3a3a" stroke="#3a3a3a" stroke-width="0.3" text-anchor="middle">0.03146</text>
<text transform="translate(380.1 266.09) scale(0.2673)" class="tb" font-size="10" fill="#3a3a3a" stroke="#3a3a3a" stroke-width="0.3">R-Square (COD)</text>
<text transform="translate(414.9 266.09) scale(0.2673)" class="tb" font-size="10" fill="#3a3a3a" stroke="#3a3a3a" stroke-width="0.3" text-anchor="middle">0.96852</text>
<text transform="translate(380.1 270.14) scale(0.2673)" class="tb" font-size="10" fill="#3a3a3a" stroke="#3a3a3a" stroke-width="0.3">Adj. R-Square</text>
<text transform="translate(414.9 270.14) scale(0.2673)" class="tb" font-size="10" fill="#3a3a3a" stroke="#3a3a3a" stroke-width="0.3" text-anchor="middle">0.95278</text></g>
<g><polyline points="42.65,401.98 43.27,411.14 43.89,419.37 44.51,426.79 45.13,433.47 45.75,439.48 46.37,444.9 46.99,449.77 47.61,454.16 48.23,458.11 48.85,461.66 49.47,464.86 50.09,467.75 50.71,470.34 51.33,472.68 51.95,474.78 52.57,476.67 53.19,478.38 53.81,479.91 54.43,481.3 55.05,482.54 55.67,483.66 56.29,484.67 56.91,485.58 57.53,486.39 58.15,487.13 58.77,487.79 59.39,488.39 60.01,488.92 60.63,489.41 61.25,489.84 61.88,490.23 62.5,490.59 63.12,490.9 63.74,491.19 64.36,491.45 64.98,491.68 65.6,491.89 66.22,492.08 66.84,492.24 67.46,492.4 68.08,492.53 68.7,492.66 69.32,492.77 69.94,492.87 70.56,492.96 71.18,493.04 71.8,493.11 72.42,493.18 73.04,493.24 73.66,493.29 74.28,493.34 74.9,493.38 75.52,493.42 76.14,493.46 76.76,493.49 77.38,493.52 78,493.54 78.62,493.56 79.24,493.58 79.86,493.6 80.48,493.62 81.1,493.64 81.72,493.65 82.34,493.66 82.96,493.67 83.58,493.68 84.2,493.69 84.82,493.7 85.44,493.71 86.06,493.71 86.68,493.72 87.3,493.72 87.92,493.73 88.54,493.73 89.16,493.74 89.78,493.74 90.4,493.74 91.02,493.75 91.64,493.75 92.26,493.75 92.88,493.75 93.5,493.75 94.12,493.76 94.74,493.76 95.36,493.76 95.98,493.76 96.6,493.76 97.22,493.76 97.84,493.76 98.46,493.76 99.08,493.77 99.7,493.77 100.32,493.77 100.94,493.77 101.56,493.77 102.18,493.77 102.8,493.77 103.42,493.77 104.05,493.77 104.67,493.77 105.29,493.77 105.91,493.77 106.53,493.77 107.15,493.77 107.77,493.77 108.39,493.77 109.01,493.77 109.63,493.77 110.25,493.77 110.87,493.77 111.49,493.77 112.11,493.77 112.73,493.77 113.35,493.77 113.97,493.77 114.59,493.77 115.21,493.77 115.83,493.77 116.45,493.77 117.07,493.77 117.69,493.77 118.31,493.77 118.93,493.77 119.55,493.77 120.17,493.77 120.79,493.77 121.41,493.77 122.03,493.77 122.65,493.77 123.27,493.77 123.89,493.77 124.51,493.77 125.13,493.77 125.75,493.77 126.37,493.77 126.99,493.77 127.61,493.77 128.23,493.77 128.85,493.77 129.47,493.77 130.09,493.77 130.71,493.77 131.33,493.77 131.95,493.77 132.57,493.77 133.19,493.77 133.81,493.77 134.43,493.77 135.05,493.77 135.67,493.77 136.29,493.77 136.91,493.77 137.53,493.77 138.15,493.77 138.77,493.77 139.39,493.77 140.01,493.77 140.63,493.77 141.25,493.77 141.87,493.77 142.49,493.77 143.11,493.77 143.73,493.77 144.35,493.77 144.97,493.77 145.59,493.77 146.22,493.77 146.84,493.77 147.46,493.77 148.08,493.77 148.7,493.77 149.32,493.77 149.94,493.77 150.56,493.77 151.18,493.77 151.8,493.77 152.42,493.77 153.04,493.77 153.66,493.77 154.28,493.77 154.9,493.77 155.52,493.77 156.14,493.77 156.76,493.77 157.38,493.77 158,493.77 158.62,493.77 159.24,493.77 159.86,493.77 160.48,493.77 161.1,493.77 161.72,493.77 162.34,493.77 162.96,493.77 163.58,493.77 164.2,493.77 164.82,493.77 165.44,493.77 166.06,493.77 166.68,493.77" fill="none" stroke="#ff0000" stroke-width="1.3" stroke-linejoin="round"/>
<circle cx="42.84" cy="402.26" r="1.75" fill="#0000ff"/>
<circle cx="53.38" cy="480.32" r="1.75" fill="#0000ff"/>
<circle cx="103.44" cy="478.02" r="1.75" fill="#0000ff"/>
<circle cx="166.68" cy="508.27" r="1.75" fill="#0000ff"/>
<rect x="27.1" y="390.9" width="158.3" height="128.8" fill="none" stroke="#505050" stroke-width="1.1"/>
<line x1="24.5" y1="519.7" x2="27.1" y2="519.7" stroke="#505050" stroke-width="1"/>
<text x="23" y="522.16" text-anchor="end" font-size="6.9" fill="#222" class="tl">5,2</text>
<line x1="24.5" y1="512.73" x2="27.1" y2="512.73" stroke="#505050" stroke-width="1"/>
<text x="23" y="515.19" text-anchor="end" font-size="6.9" fill="#222" class="tl">5,3</text>
<line x1="24.5" y1="505.76" x2="27.1" y2="505.76" stroke="#505050" stroke-width="1"/>
<text x="23" y="508.22" text-anchor="end" font-size="6.9" fill="#222" class="tl">5,4</text>
<line x1="24.5" y1="498.79" x2="27.1" y2="498.79" stroke="#505050" stroke-width="1"/>
<text x="23" y="501.25" text-anchor="end" font-size="6.9" fill="#222" class="tl">5,5</text>
<line x1="24.5" y1="491.82" x2="27.1" y2="491.82" stroke="#505050" stroke-width="1"/>
<text x="23" y="494.28" text-anchor="end" font-size="6.9" fill="#222" class="tl">5,6</text>
<line x1="24.5" y1="484.85" x2="27.1" y2="484.85" stroke="#505050" stroke-width="1"/>
<text x="23" y="487.31" text-anchor="end" font-size="6.9" fill="#222" class="tl">5,7</text>
<line x1="24.5" y1="477.88" x2="27.1" y2="477.88" stroke="#505050" stroke-width="1"/>
<text x="23" y="480.34" text-anchor="end" font-size="6.9" fill="#222" class="tl">5,8</text>
<line x1="24.5" y1="470.91" x2="27.1" y2="470.91" stroke="#505050" stroke-width="1"/>
<text x="23" y="473.37" text-anchor="end" font-size="6.9" fill="#222" class="tl">5,9</text>
<line x1="24.5" y1="463.94" x2="27.1" y2="463.94" stroke="#505050" stroke-width="1"/>
<text x="23" y="466.4" text-anchor="end" font-size="6.9" fill="#222" class="tl">6,0</text>
<line x1="24.5" y1="456.97" x2="27.1" y2="456.97" stroke="#505050" stroke-width="1"/>
<text x="23" y="459.43" text-anchor="end" font-size="6.9" fill="#222" class="tl">6,1</text>
<line x1="24.5" y1="450" x2="27.1" y2="450" stroke="#505050" stroke-width="1"/>
<text x="23" y="452.46" text-anchor="end" font-size="6.9" fill="#222" class="tl">6,2</text>
<line x1="24.5" y1="443.03" x2="27.1" y2="443.03" stroke="#505050" stroke-width="1"/>
<text x="23" y="445.49" text-anchor="end" font-size="6.9" fill="#222" class="tl">6,3</text>
<line x1="24.5" y1="436.06" x2="27.1" y2="436.06" stroke="#505050" stroke-width="1"/>
<text x="23" y="438.52" text-anchor="end" font-size="6.9" fill="#222" class="tl">6,4</text>
<line x1="24.5" y1="429.09" x2="27.1" y2="429.09" stroke="#505050" stroke-width="1"/>
<text x="23" y="431.55" text-anchor="end" font-size="6.9" fill="#222" class="tl">6,5</text>
<line x1="24.5" y1="422.12" x2="27.1" y2="422.12" stroke="#505050" stroke-width="1"/>
<text x="23" y="424.58" text-anchor="end" font-size="6.9" fill="#222" class="tl">6,6</text>
<line x1="24.5" y1="415.15" x2="27.1" y2="415.15" stroke="#505050" stroke-width="1"/>
<text x="23" y="417.61" text-anchor="end" font-size="6.9" fill="#222" class="tl">6,7</text>
<line x1="24.5" y1="408.18" x2="27.1" y2="408.18" stroke="#505050" stroke-width="1"/>
<text x="23" y="410.64" text-anchor="end" font-size="6.9" fill="#222" class="tl">6,8</text>
<line x1="24.5" y1="401.21" x2="27.1" y2="401.21" stroke="#505050" stroke-width="1"/>
<text x="23" y="403.67" text-anchor="end" font-size="6.9" fill="#222" class="tl">6,9</text>
<line x1="24.5" y1="394.24" x2="27.1" y2="394.24" stroke="#505050" stroke-width="1"/>
<text x="23" y="396.7" text-anchor="end" font-size="6.9" fill="#222" class="tl">7,0</text>
<line x1="25.6" y1="516.22" x2="27.1" y2="516.22" stroke="#505050" stroke-width="0.9"/>
<line x1="25.6" y1="509.25" x2="27.1" y2="509.25" stroke="#505050" stroke-width="0.9"/>
<line x1="25.6" y1="502.28" x2="27.1" y2="502.28" stroke="#505050" stroke-width="0.9"/>
<line x1="25.6" y1="495.31" x2="27.1" y2="495.31" stroke="#505050" stroke-width="0.9"/>
<line x1="25.6" y1="488.34" x2="27.1" y2="488.34" stroke="#505050" stroke-width="0.9"/>
<line x1="25.6" y1="481.37" x2="27.1" y2="481.37" stroke="#505050" stroke-width="0.9"/>
<line x1="25.6" y1="474.4" x2="27.1" y2="474.4" stroke="#505050" stroke-width="0.9"/>
<line x1="25.6" y1="467.43" x2="27.1" y2="467.43" stroke="#505050" stroke-width="0.9"/>
<line x1="25.6" y1="460.46" x2="27.1" y2="460.46" stroke="#505050" stroke-width="0.9"/>
<line x1="25.6" y1="453.49" x2="27.1" y2="453.49" stroke="#505050" stroke-width="0.9"/>
<line x1="25.6" y1="446.52" x2="27.1" y2="446.52" stroke="#505050" stroke-width="0.9"/>
<line x1="25.6" y1="439.55" x2="27.1" y2="439.55" stroke="#505050" stroke-width="0.9"/>
<line x1="25.6" y1="432.58" x2="27.1" y2="432.58" stroke="#505050" stroke-width="0.9"/>
<line x1="25.6" y1="425.61" x2="27.1" y2="425.61" stroke="#505050" stroke-width="0.9"/>
<line x1="25.6" y1="418.64" x2="27.1" y2="418.64" stroke="#505050" stroke-width="0.9"/>
<line x1="25.6" y1="411.67" x2="27.1" y2="411.67" stroke="#505050" stroke-width="0.9"/>
<line x1="25.6" y1="404.7" x2="27.1" y2="404.7" stroke="#505050" stroke-width="0.9"/>
<line x1="25.6" y1="397.73" x2="27.1" y2="397.73" stroke="#505050" stroke-width="0.9"/>
<line x1="40.2" y1="519.7" x2="40.2" y2="522.1" stroke="#505050" stroke-width="1"/>
<text x="40.2" y="529.4" text-anchor="middle" font-size="6.9" fill="#222" class="tl">0</text>
<line x1="42.84" y1="519.7" x2="42.84" y2="522.1" stroke="#505050" stroke-width="1"/>
<text x="42.84" y="529.4" text-anchor="middle" font-size="6.9" fill="#222" class="tl">1</text>
<line x1="53.38" y1="519.7" x2="53.38" y2="522.1" stroke="#505050" stroke-width="1"/>
<text x="53.38" y="529.4" text-anchor="middle" font-size="6.9" fill="#222" class="tl">5</text>
<line x1="103.44" y1="519.7" x2="103.44" y2="522.1" stroke="#505050" stroke-width="1"/>
<text x="103.44" y="529.4" text-anchor="middle" font-size="6.9" fill="#222" class="tl">24</text>
<line x1="166.68" y1="519.7" x2="166.68" y2="522.1" stroke="#505050" stroke-width="1"/>
<text x="166.68" y="529.4" text-anchor="middle" font-size="6.9" fill="#222" class="tl">48</text>
<line x1="48.11" y1="519.7" x2="48.11" y2="521.1" stroke="#505050" stroke-width="0.9"/>
<line x1="78.41" y1="519.7" x2="78.41" y2="521.1" stroke="#505050" stroke-width="0.9"/>
<line x1="135.06" y1="519.7" x2="135.06" y2="521.1" stroke="#505050" stroke-width="0.9"/>
<text transform="translate(10.3 455.8) rotate(-90)" text-anchor="middle" font-size="6.8" font-weight="bold" fill="#000" class="ti">kidney</text>
<text x="106.5" y="541.1" text-anchor="middle" font-size="6.6" font-weight="bold" fill="#000" class="ti">tim (h)</text>
<rect x="63.9" y="400.6" width="46.1" height="9.3" fill="#000"/>
<rect x="61.9" y="398.6" width="46.1" height="9.3" fill="#fff" stroke="#8a8a8a" stroke-width="0.7"/>
<text x="84.95" y="406.1" text-anchor="middle" font-size="7.0" fill="#1a1a1a" textLength="44.1" lengthAdjust="spacingAndGlyphs">kidney to blood</text>
<rect x="62.3" y="413.6" width="48.2" height="32.5" fill="#fff" stroke="#c8c8c8" stroke-width="0.5"/>
<line x1="62.3" y1="417.21" x2="110.5" y2="417.21" stroke="#ececec" stroke-width="0.4"/>
<line x1="62.3" y1="420.82" x2="110.5" y2="420.82" stroke="#ececec" stroke-width="0.4"/>
<line x1="62.3" y1="424.43" x2="110.5" y2="424.43" stroke="#ececec" stroke-width="0.4"/>
<line x1="62.3" y1="428.04" x2="110.5" y2="428.04" stroke="#ececec" stroke-width="0.4"/>
<line x1="62.3" y1="431.66" x2="110.5" y2="431.66" stroke="#ececec" stroke-width="0.4"/>
<line x1="62.3" y1="435.27" x2="110.5" y2="435.27" stroke="#ececec" stroke-width="0.4"/>
<line x1="62.3" y1="438.88" x2="110.5" y2="438.88" stroke="#ececec" stroke-width="0.4"/>
<line x1="62.3" y1="442.49" x2="110.5" y2="442.49" stroke="#ececec" stroke-width="0.4"/>
<line x1="83.5" y1="413.6" x2="83.5" y2="446.1" stroke="#ececec" stroke-width="0.4"/>
<text transform="translate(63.1 416.26) scale(0.2383)" class="tb" font-size="10" fill="#3a3a3a" stroke="#3a3a3a" stroke-width="0.3">Model</text>
<text transform="translate(97 416.26) scale(0.2383)" class="tb" font-size="10" fill="#3a3a3a" stroke="#3a3a3a" stroke-width="0.3" text-anchor="middle">Exponential</text>
<text transform="translate(63.1 419.87) scale(0.2383)" class="tb" font-size="10" fill="#3a3a3a" stroke="#3a3a3a" stroke-width="0.3">Equation</text>
<text transform="translate(97 419.87) scale(0.2383)" class="tb" font-size="10" fill="#3a3a3a" stroke="#3a3a3a" stroke-width="0.3" text-anchor="middle">y = y0 + A*exp(R0*x)</text>
<text transform="translate(63.1 423.49) scale(0.2383)" class="tb" font-size="10" fill="#3a3a3a" stroke="#3a3a3a" stroke-width="0.3">Plot</text>
<text transform="translate(97 423.49) scale(0.2383)" class="tb" font-size="10" fill="#3a3a3a" stroke="#3a3a3a" stroke-width="0.3" text-anchor="middle">kidney</text>
<text transform="translate(63.1 427.1) scale(0.2383)" class="tb" font-size="10" fill="#3a3a3a" stroke="#3a3a3a" stroke-width="0.3">y0</text>
<text transform="translate(97 427.1) scale(0.2383)" class="tb" font-size="10" fill="#3a3a3a" stroke="#3a3a3a" stroke-width="0.3" text-anchor="middle">5.58494 ± 0.21504</text>
<text transform="translate(63.1 430.71) scale(0.2383)" class="tb" font-size="10" fill="#3a3a3a" stroke="#3a3a3a" stroke-width="0.3">A</text>
<text transform="translate(97 430.71) scale(0.2383)" class="tb" font-size="10" fill="#3a3a3a" stroke="#3a3a3a" stroke-width="0.3" text-anchor="middle">2.13639 ± 1.08516</text>
<text transform="translate(63.1 434.32) scale(0.2383)" class="tb" font-size="10" fill="#3a3a3a" stroke="#3a3a3a" stroke-width="0.3">R0</text>
<text transform="translate(97 434.32) scale(0.2383)" class="tb" font-size="10" fill="#3a3a3a" stroke="#3a3a3a" stroke-width="0.3" text-anchor="middle">-0.48917 ± 0.46577</text>
<text transform="translate(63.1 437.93) scale(0.2383)" class="tb" font-size="10" fill="#3a3a3a" stroke="#3a3a3a" stroke-width="0.3">Reduced Chi-Sqr</text>
<text transform="translate(97 437.93) scale(0.2383)" class="tb" font-size="10" fill="#3a3a3a" stroke="#3a3a3a" stroke-width="0.3" text-anchor="middle">0.09244</text>
<text transform="translate(63.1 441.54) scale(0.2383)" class="tb" font-size="10" fill="#3a3a3a" stroke="#3a3a3a" stroke-width="0.3">R-Square (COD)</text>
<text transform="translate(97 441.54) scale(0.2383)" class="tb" font-size="10" fill="#3a3a3a" stroke="#3a3a3a" stroke-width="0.3" text-anchor="middle">0.82748</text>
<text transform="translate(63.1 445.15) scale(0.2383)" class="tb" font-size="10" fill="#3a3a3a" stroke="#3a3a3a" stroke-width="0.3">Adj. R-Square</text>
<text transform="translate(97 445.15) scale(0.2383)" class="tb" font-size="10" fill="#3a3a3a" stroke="#3a3a3a" stroke-width="0.3" text-anchor="middle">0.48245</text></g>
<g><polyline points="291.4,503.63 292.06,498.85 292.72,494.87 293.38,491.24 294.03,487.87 294.69,484.7 295.35,481.71 296.01,478.87 296.67,476.17 297.33,473.6 297.98,471.14 298.64,468.79 299.3,466.53 299.96,464.38 300.62,462.3 301.28,460.31 301.94,458.4 302.59,456.56 303.25,454.8 303.91,453.09 304.57,451.45 305.23,449.87 305.89,448.35 306.55,446.88 307.2,445.47 307.86,444.1 308.52,442.78 309.18,441.51 309.84,440.28 310.5,439.1 311.15,437.95 311.81,436.84 312.47,435.77 313.13,434.74 313.79,433.74 314.45,432.77 315.11,431.84 315.76,430.93 316.42,430.06 317.08,429.21 317.74,428.39 318.4,427.6 319.06,426.83 319.72,426.09 320.37,425.37 321.03,424.67 321.69,424 322.35,423.34 323.01,422.71 323.67,422.1 324.32,421.5 324.98,420.93 325.64,420.37 326.3,419.83 326.96,419.31 327.62,418.8 328.28,418.31 328.93,417.83 329.59,417.37 330.25,416.92 330.91,416.48 331.57,416.06 332.23,415.65 332.89,415.25 333.54,414.87 334.2,414.5 334.86,414.13 335.52,413.78 336.18,413.44 336.84,413.11 337.5,412.79 338.15,412.48 338.81,412.17 339.47,411.88 340.13,411.6 340.79,411.32 341.45,411.05 342.1,410.79 342.76,410.54 343.42,410.29 344.08,410.05 344.74,409.82 345.4,409.6 346.06,409.38 346.71,409.17 347.37,408.96 348.03,408.76 348.69,408.57 349.35,408.38 350.01,408.2 350.66,408.02 351.32,407.84 351.98,407.68 352.64,407.51 353.3,407.35 353.96,407.2 354.62,407.05 355.27,406.91 355.93,406.76 356.59,406.63 357.25,406.49 357.91,406.36 358.57,406.24 359.23,406.12 359.88,406 360.54,405.88 361.2,405.77 361.86,405.66 362.52,405.55 363.18,405.45 363.83,405.35 364.49,405.25 365.15,405.16 365.81,405.07 366.47,404.98 367.13,404.89 367.79,404.8 368.44,404.72 369.1,404.64 369.76,404.56 370.42,404.49 371.08,404.41 371.74,404.34 372.4,404.27 373.05,404.21 373.71,404.14 374.37,404.08 375.03,404.01 375.69,403.95 376.35,403.89 377,403.84 377.66,403.78 378.32,403.73 378.98,403.67 379.64,403.62 380.3,403.57 380.96,403.52 381.61,403.48 382.27,403.43 382.93,403.39 383.59,403.34 384.25,403.3 384.91,403.26 385.57,403.22 386.22,403.18 386.88,403.14 387.54,403.11 388.2,403.07 388.86,403.03 389.52,403 390.17,402.97 390.83,402.94 391.49,402.9 392.15,402.87 392.81,402.84 393.47,402.81 394.13,402.79 394.78,402.76 395.44,402.73 396.1,402.71 396.76,402.68 397.42,402.66 398.08,402.63 398.74,402.61 399.39,402.59 400.05,402.57 400.71,402.54 401.37,402.52 402.03,402.5 402.69,402.48 403.34,402.46 404,402.44 404.66,402.43 405.32,402.41 405.98,402.39 406.64,402.37 407.3,402.36 407.95,402.34 408.61,402.33 409.27,402.31 409.93,402.3 410.59,402.28 411.25,402.27 411.91,402.25 412.56,402.24 413.22,402.23 413.88,402.22 414.54,402.2 415.2,402.19 415.86,402.18 416.51,402.17 417.17,402.16 417.83,402.15 418.49,402.14 419.15,402.13 419.81,402.12 420.47,402.11 421.12,402.1 421.78,402.09 422.44,402.08 423.1,402.07" fill="none" stroke="#ff0000" stroke-width="1.3" stroke-linejoin="round"/>
<circle cx="291.4" cy="510.16" r="1.75" fill="#0000ff"/>
<circle cx="296.89" cy="469.77" r="1.75" fill="#0000ff"/>
<circle cx="318.84" cy="433.62" r="1.75" fill="#0000ff"/>
<circle cx="423.1" cy="400.14" r="1.75" fill="#0000ff"/>
<rect x="277.45" y="388.5" width="164.75" height="133.4" fill="none" stroke="#505050" stroke-width="1.1"/>
<line x1="274.85" y1="509.8" x2="277.45" y2="509.8" stroke="#505050" stroke-width="1"/>
<text x="273.35" y="512.26" text-anchor="end" font-size="6.9" fill="#222" class="tl">0</text>
<line x1="274.85" y1="485.54" x2="277.45" y2="485.54" stroke="#505050" stroke-width="1"/>
<text x="273.35" y="488" text-anchor="end" font-size="6.9" fill="#222" class="tl">2</text>
<line x1="274.85" y1="461.28" x2="277.45" y2="461.28" stroke="#505050" stroke-width="1"/>
<text x="273.35" y="463.74" text-anchor="end" font-size="6.9" fill="#222" class="tl">4</text>
<line x1="274.85" y1="437.02" x2="277.45" y2="437.02" stroke="#505050" stroke-width="1"/>
<text x="273.35" y="439.48" text-anchor="end" font-size="6.9" fill="#222" class="tl">6</text>
<line x1="274.85" y1="412.76" x2="277.45" y2="412.76" stroke="#505050" stroke-width="1"/>
<text x="273.35" y="415.22" text-anchor="end" font-size="6.9" fill="#222" class="tl">8</text>
<line x1="274.85" y1="388.5" x2="277.45" y2="388.5" stroke="#505050" stroke-width="1"/>
<text x="273.35" y="390.96" text-anchor="end" font-size="6.9" fill="#222" class="tl">10</text>
<line x1="275.95" y1="521.93" x2="277.45" y2="521.93" stroke="#505050" stroke-width="0.9"/>
<line x1="275.95" y1="497.67" x2="277.45" y2="497.67" stroke="#505050" stroke-width="0.9"/>
<line x1="275.95" y1="473.41" x2="277.45" y2="473.41" stroke="#505050" stroke-width="0.9"/>
<line x1="275.95" y1="449.15" x2="277.45" y2="449.15" stroke="#505050" stroke-width="0.9"/>
<line x1="275.95" y1="424.89" x2="277.45" y2="424.89" stroke="#505050" stroke-width="0.9"/>
<line x1="275.95" y1="400.63" x2="277.45" y2="400.63" stroke="#505050" stroke-width="0.9"/>
<line x1="291.4" y1="521.9" x2="291.4" y2="524.3" stroke="#505050" stroke-width="1"/>
<text x="291.4" y="531.6" text-anchor="middle" font-size="6.9" fill="#222" class="tl">0</text>
<line x1="296.89" y1="521.9" x2="296.89" y2="524.3" stroke="#505050" stroke-width="1"/>
<text x="296.89" y="531.6" text-anchor="middle" font-size="6.9" fill="#222" class="tl">1</text>
<line x1="318.84" y1="521.9" x2="318.84" y2="524.3" stroke="#505050" stroke-width="1"/>
<text x="318.84" y="531.6" text-anchor="middle" font-size="6.9" fill="#222" class="tl">5</text>
<line x1="423.1" y1="521.9" x2="423.1" y2="524.3" stroke="#505050" stroke-width="1"/>
<text x="423.1" y="531.6" text-anchor="middle" font-size="6.9" fill="#222" class="tl">24</text>
<line x1="307.86" y1="521.9" x2="307.86" y2="523.3" stroke="#505050" stroke-width="0.9"/>
<line x1="370.97" y1="521.9" x2="370.97" y2="523.3" stroke="#505050" stroke-width="0.9"/>
<text transform="translate(263.8 455.2) rotate(-90)" text-anchor="middle" font-size="6.8" font-weight="bold" fill="#000" class="ti">inflammation</text>
<text x="361.2" y="543.2" text-anchor="middle" font-size="6.6" font-weight="bold" fill="#000" class="ti">tim (h)</text>
<rect x="361.4" y="423.4" width="67.6" height="9.2" fill="#000"/>
<rect x="359.4" y="421.4" width="67.6" height="9.2" fill="#fff" stroke="#8a8a8a" stroke-width="0.7"/>
<text x="393.2" y="428.8" text-anchor="middle" font-size="7.0" fill="#1a1a1a" textLength="64.5" lengthAdjust="spacingAndGlyphs">blood to inflammation</text>
<rect x="368.7" y="436.3" width="51.7" height="38.7" fill="#fff" stroke="#c8c8c8" stroke-width="0.5"/>
<line x1="368.7" y1="440.6" x2="420.4" y2="440.6" stroke="#ececec" stroke-width="0.4"/>
<line x1="368.7" y1="444.9" x2="420.4" y2="444.9" stroke="#ececec" stroke-width="0.4"/>
<line x1="368.7" y1="449.2" x2="420.4" y2="449.2" stroke="#ececec" stroke-width="0.4"/>
<line x1="368.7" y1="453.5" x2="420.4" y2="453.5" stroke="#ececec" stroke-width="0.4"/>
<line x1="368.7" y1="457.8" x2="420.4" y2="457.8" stroke="#ececec" stroke-width="0.4"/>
<line x1="368.7" y1="462.1" x2="420.4" y2="462.1" stroke="#ececec" stroke-width="0.4"/>
<line x1="368.7" y1="466.4" x2="420.4" y2="466.4" stroke="#ececec" stroke-width="0.4"/>
<line x1="368.7" y1="470.7" x2="420.4" y2="470.7" stroke="#ececec" stroke-width="0.4"/>
<line x1="392.2" y1="436.3" x2="392.2" y2="475" stroke="#ececec" stroke-width="0.4"/>
<text transform="translate(369.5 439.47) scale(0.2838)" class="tb" font-size="10" fill="#3a3a3a" stroke="#3a3a3a" stroke-width="0.3">Model</text>
<text transform="translate(406.3 439.47) scale(0.2838)" class="tb" font-size="10" fill="#3a3a3a" stroke="#3a3a3a" stroke-width="0.3" text-anchor="middle">BoxLucas1</text>
<text transform="translate(369.5 443.77) scale(0.2838)" class="tb" font-size="10" fill="#3a3a3a" stroke="#3a3a3a" stroke-width="0.3">Equation</text>
<text transform="translate(406.3 443.77) scale(0.2838)" class="tb" font-size="10" fill="#3a3a3a" stroke="#3a3a3a" stroke-width="0.3" text-anchor="middle">y = A1 - A2*exp(-k*x)</text>
<text transform="translate(369.5 448.07) scale(0.2838)" class="tb" font-size="10" fill="#3a3a3a" stroke="#3a3a3a" stroke-width="0.3">Plot</text>
<text transform="translate(406.3 448.07) scale(0.2838)" class="tb" font-size="10" fill="#3a3a3a" stroke="#3a3a3a" stroke-width="0.3" text-anchor="middle">inflammation</text>
<text transform="translate(369.5 452.37) scale(0.2838)" class="tb" font-size="10" fill="#3a3a3a" stroke="#3a3a3a" stroke-width="0.3">A1</text>
<text transform="translate(406.3 452.37) scale(0.2838)" class="tb" font-size="10" fill="#3a3a3a" stroke="#3a3a3a" stroke-width="0.3" text-anchor="middle">8.88178 ± 1.28125</text>
<text transform="translate(369.5 456.67) scale(0.2838)" class="tb" font-size="10" fill="#3a3a3a" stroke="#3a3a3a" stroke-width="0.3">A2</text>
<text transform="translate(406.3 456.67) scale(0.2838)" class="tb" font-size="10" fill="#3a3a3a" stroke="#3a3a3a" stroke-width="0.3" text-anchor="middle">8.40408 ± 1.30681</text>
<text transform="translate(369.5 460.97) scale(0.2838)" class="tb" font-size="10" fill="#3a3a3a" stroke="#3a3a3a" stroke-width="0.3">k</text>
<text transform="translate(406.3 460.97) scale(0.2838)" class="tb" font-size="10" fill="#3a3a3a" stroke="#3a3a3a" stroke-width="0.3" text-anchor="middle">0.27507 ± 0.12027</text>
<text transform="translate(369.5 465.27) scale(0.2838)" class="tb" font-size="10" fill="#3a3a3a" stroke="#3a3a3a" stroke-width="0.3">Reduced Chi-Sqr</text>
<text transform="translate(406.3 465.27) scale(0.2838)" class="tb" font-size="10" fill="#3a3a3a" stroke="#3a3a3a" stroke-width="0.3" text-anchor="middle">1.11020</text>
<text transform="translate(369.5 469.57) scale(0.2838)" class="tb" font-size="10" fill="#3a3a3a" stroke="#3a3a3a" stroke-width="0.3">R-Square (COD)</text>
<text transform="translate(406.3 469.57) scale(0.2838)" class="tb" font-size="10" fill="#3a3a3a" stroke="#3a3a3a" stroke-width="0.3" text-anchor="middle">0.97952</text>
<text transform="translate(369.5 473.87) scale(0.2838)" class="tb" font-size="10" fill="#3a3a3a" stroke="#3a3a3a" stroke-width="0.3">Adj. R-Square</text>
<text transform="translate(406.3 473.87) scale(0.2838)" class="tb" font-size="10" fill="#3a3a3a" stroke="#3a3a3a" stroke-width="0.3" text-anchor="middle">0.93857</text></g>
</g>
</svg>
</body></html>
